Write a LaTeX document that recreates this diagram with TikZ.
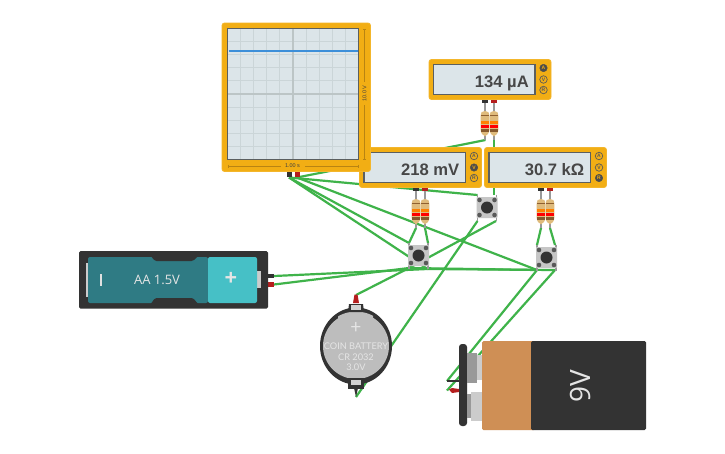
\documentclass[tikz,border=0pt]{standalone}
\usepackage{fontspec}
\setmainfont{Liberation Sans}
\newfontfamily\thinfont{Open Sans}
\newfontfamily\lightfont{Lato}
\definecolor{gold}{HTML}{F2AE14}
\definecolor{goldline}{HTML}{B98412}
\definecolor{lcd}{HTML}{DCE5E9}
\definecolor{lcdedge}{HTML}{5B5F60}
\definecolor{gridc}{HTML}{CBD5D8}
\definecolor{gridd}{HTML}{BCC5C6}
\definecolor{scopeblue}{HTML}{3D8FD9}
\definecolor{wire}{HTML}{3FB34A}
\definecolor{dark}{HTML}{333333}
\definecolor{tan}{HTML}{DFBB7C}
\definecolor{probered}{HTML}{B51E1E}
\definecolor{teal}{HTML}{2F7B84}
\definecolor{cyanish}{HTML}{46C0C6}
\definecolor{copper}{HTML}{CF8F55}
\definecolor{coingrey}{HTML}{BDBDBD}
\tikzset{
  wirel/.style={draw=wire,line width=2.2pt},
  pin/.style={draw=gray!80,line width=1.2pt},
  gldbox/.style={fill=gold,draw=gold!90!white,line width=.8pt,rounded corners=2.5pt},
  lcdbox/.style={fill=lcd,draw=lcdedge,line width=1.5pt},
  readout/.style={anchor=base east,inner sep=0pt,text=black!72,font=\fontsize{16.6}{18}\selectfont\bfseries},
  modeon/.style={circle,fill=black!70,draw=black!70,minimum size=7.5pt,inner sep=0pt,text=gold,font=\fontsize{5}{5}\selectfont\bfseries},
  modeoff/.style={circle,draw=black!65,line width=.7pt,minimum size=7.5pt,inner sep=0pt,text=black!65,font=\fontsize{5}{5}\selectfont\bfseries},
  tinylab/.style={inner sep=0pt,text=black!75,font=\fontsize{5.5}{5.5}\selectfont},
  thintext/.style={inner sep=0pt,text=white!90!black},
}
\newcommand\mmeter[7]{%
  \begin{scope}[shift={(#2,#3)}]
    \draw[gldbox] (0,0) rectangle (122,40);
    \draw[lcdbox] (4.5,5) rectangle (106,35);
    \node[readout] (#1v) at (100,28) {#4};
    \node[#5] (#1a) at (114.5,8.5) {A};
    \node[#6] (#1b) at (114.5,20) {V};
    \node[#7] (#1c) at (114.5,30.5) {R};
  \end{scope}}
\newcommand\oneres[3]{%
  \begin{scope}[shift={(#1,#2)}]
    \fill[#3] (-2.6,0) rectangle (2.6,4);
    \draw[pin] (0,4) -- (0,41);
    \fill[tan,rounded corners=2.5pt] (-4.4,15) -- (-2.5,12) -- (2.5,12) -- (4.4,15) -- (4.4,33) -- (1.5,37) -- (-1.5,37) -- (-4.4,33) -- cycle;
    \fill[brown!75!black] (-4.4,15.5) rectangle (4.4,16.5);
    \fill[orange] (-4.4,21.5) rectangle (4.4,24.5);
    \fill[red] (-4.4,25.5) rectangle (4.4,28.5);
    \fill[brown!70!black] (-4.4,30) rectangle (4.4,32.5);
  \end{scope}}
\newcommand\respair[2]{\oneres{#1}{#2}{dark}\oneres{\the\numexpr#1+9\relax}{#2}{probered}}
\newcommand\pbutton[2]{%
  \begin{scope}[shift={(#1,#2)}]
    \draw[pin] (-9.5,-13) -- (-9.5,13) (9.5,-13) -- (9.5,13);
    \fill[gray!45,rounded corners=.8pt] (-10.5,-10.5) rectangle (10.5,10.5);
    \fill[dark] (0,0) circle (6);
    \foreach \sx in {-1,1}\foreach \sy in {-1,1}\fill[black!65] (\sx*7.5,\sy*7.5) circle (2.3);
  \end{scope}}
\begin{document}
\begin{tikzpicture}[x=1pt,y=-1pt]
\useasboundingbox (0,0) rectangle (725,453);
\fill[white] (0,0) rectangle (725,453);
\coordinate (scb) at (289,177.5);
\coordinate (scr) at (297,177.5);
\coordinate (mtb) at (485.5,140);
\coordinate (mtr) at (494,140);
\coordinate (b1tl) at (409,243);
\coordinate (b1tr) at (428,243);
\coordinate (b1bl) at (409,268);
\coordinate (b1br) at (427.5,269);
\coordinate (b2tl) at (477.5,195);
\coordinate (b2tr) at (494,195);
\coordinate (b2bl) at (477.5,221);
\coordinate (b2br) at (496,221);
\coordinate (b3tl) at (537,245);
\coordinate (b3tr) at (555,245);
\coordinate (b3bl) at (537,270);
\coordinate (b3br) at (555,270);
\coordinate (r1l) at (416,228);
\coordinate (r1r) at (425,228);
\coordinate (r3l) at (541,228);
\coordinate (r3r) at (550,228);
\coordinate (aab) at (274,276);
\coordinate (aar) at (274,284.5);
\coordinate (cr) at (356,295);
\coordinate (cb) at (356,397);
\coordinate (nb) at (447,381);
\coordinate (nr) at (447,390.5);
\draw[wirel] (scr) -- (mtb);
\draw[wirel] (scb) -- (b2tl);
\draw[wirel] (scb) -- (b1tl);
\draw[wirel] (scb) -- (b1br);
\draw[wirel] (scr) -- (b3bl);
\draw[wirel] (mtr) -- (b2tr);
\draw[wirel] (b2br) -- (b1bl);
\draw[wirel] (b2bl) -- (cb);
\draw[wirel] (cr) -- (b1bl);
\draw[wirel] (aab) -- (b1br);
\draw[wirel] (aar) -- (b1bl);
\draw[wirel] (b1bl) -- (b3bl);
\draw[wirel] (b1br) -- (b3br);
\draw[wirel] (b3bl) -- (nb);
\draw[wirel] (b3br) -- (nr);
\draw[wirel] (r1l) -- (b1tl);
\draw[wirel] (r1r) -- (b1tr);
\draw[wirel] (r3l) -- (b3tl);
\draw[wirel] (r3r) -- (b3tr);
\respair{485}{99}
\respair{416}{187}
\respair{541}{187}
\pbutton{418.5}{255.5}
\pbutton{487}{207.5}
\pbutton{546.5}{257.5}
\mmeter{mt}{429}{59.5}{134 µA}{modeon}{modeoff}{modeoff}
\mmeter{ml}{359.5}{147.5}{218 mV}{modeoff}{modeon}{modeoff}
\mmeter{mr}{484.5}{147.5}{30.7 kΩ}{modeoff}{modeoff}{modeon}
% oscilloscope
\fill[dark] (286.5,172) rectangle (291.5,177);
\fill[probered] (295,172) rectangle (299.5,177);
\draw[gldbox] (222,23) rectangle (370.5,171.5);
\fill[lcd] (227.5,28.5) rectangle (358.5,159.5);
\foreach \i in {1,...,9}{
  \draw[gridc,line width=1pt] ({227.5+13.1*\i},28.5) -- ({227.5+13.1*\i},159.5);
  \draw[gridc,line width=1pt] (227.5,{28.5+13.1*\i}) -- (358.5,{28.5+13.1*\i});
}
\draw[gridd,line width=1.3pt] (293,28.5) -- (293,159.5);
\draw[gridd,line width=1.3pt] (227.5,94) -- (358.5,94);
\draw[lcdedge,line width=1.6pt] (227.5,28.5) rectangle (358.5,159.5);
\draw[scopeblue,line width=2pt] (228.5,50.5) -- (357.5,50.5);
\node[tinylab] (sct) at (292.5,166) {1.00 s};
\node[tinylab,rotate=90] (scv) at (364.5,93.5) {10.0 V};
\draw[goldline,line width=.5pt] (228,164.5) -- (228,167.5) (228,166) -- (281,166) (305,166) -- (358,166) (358,164.5) -- (358,167.5);
\draw[goldline,line width=.5pt] (363,29) -- (366,29) (364.5,29) -- (364.5,82) (364.5,105) -- (364.5,159) (363,159) -- (366,159);
% AA battery
\fill[dark] (267,273.5) rectangle (274,278);
\fill[probered] (267,282) rectangle (274,287);
\fill[dark,rounded corners=1.5pt] (79,251) rectangle (268,308.5);
\fill[gray!40] (86,263) rectangle (88,297);
\fill[gray!40] (257,271) rectangle (261,288);
\fill[teal,rounded corners=2pt] (88,257) -- (208,257) -- (208,303) -- (88,303) -- cycle;
\fill[cyanish,rounded corners=2pt] (208,257) -- (257,257) -- (257,303) -- (208,303) -- cycle;
\fill[dark,rounded corners=1.5pt] (150,255) -- (155,261) -- (193,261) -- (199,255) -- cycle;
\fill[dark,rounded corners=1.5pt] (150,305) -- (155,298) -- (193,298) -- (199,305) -- cycle;
\node[thintext,font=\thinfont\fontsize{13}{13}\selectfont] (aat) at (157,280) {AA 1.5V};
\fill[white!88!black] (100.3,274) rectangle (102.3,286);
\node[thintext,font=\thinfont\bfseries\fontsize{22}{22}\selectfont] (aap) at (231,279) {+};
% coin battery
\fill[probered] (354.5,294.5) -- (357.5,294.5) -- (359,303) -- (353,303) -- cycle;
\fill[dark] (354,388) -- (358,388) -- (356,397) -- cycle;
\fill[dark] (356,346) ellipse (36 and 38.5);
\fill[coingrey] (356,346) circle (33);
\begin{scope}
  \clip (338,300) rectangle (373,330);
  \fill[coingrey] (356,347) circle (35.5);
\end{scope}
\fill[dark] (349,304) -- (363,304) -- (364,312) -- (348,312) -- cycle;
\fill[gray!35] (351,304.5) rectangle (361,310);
\fill[dark] (348,378) rectangle (364,388.5);
\fill[gray!35] (351,380) rectangle (361,385);
\node[thintext,font=\lightfont\fontsize{19}{19}\selectfont] (cp) at (356,328) {+};
\node[thintext,font=\lightfont\fontsize{9.2}{9.2}\selectfont] (c1) at (356,346) {COIN BATTERY};
\node[thintext,font=\lightfont\fontsize{9.2}{9.2}\selectfont] (c2) at (356,357) {CR 2032};
\node[thintext,font=\lightfont\fontsize{9.2}{9.2}\selectfont] (c3) at (356,367.5) {3.0V};
% 9V battery
\fill[dark] (447,380) rectangle (459,382);
\fill[probered] (449,389.5) -- (452,388) -- (459,389) -- (459,392) -- (452,393) -- cycle;
\fill[dark,rounded corners=3pt] (459,344) rectangle (467,426);
\fill[gray!40] (477,355) rectangle (482,380);
\fill[gray!80] (467,353) rectangle (477,383);
\fill[gray!40] (471,392) rectangle (482,421);
\fill[gray!80] (467,394) rectangle (471,418);
\fill[copper,rounded corners=1.5pt] (482,341) rectangle (535,430);
\fill[dark,rounded corners=1.5pt] (531,341) rectangle (646,430);
\node[thintext,rotate=90,font=\thinfont\fontsize{28}{28}\selectfont] (nv) at (580,386) {9V};
\end{tikzpicture}
\end{document}
